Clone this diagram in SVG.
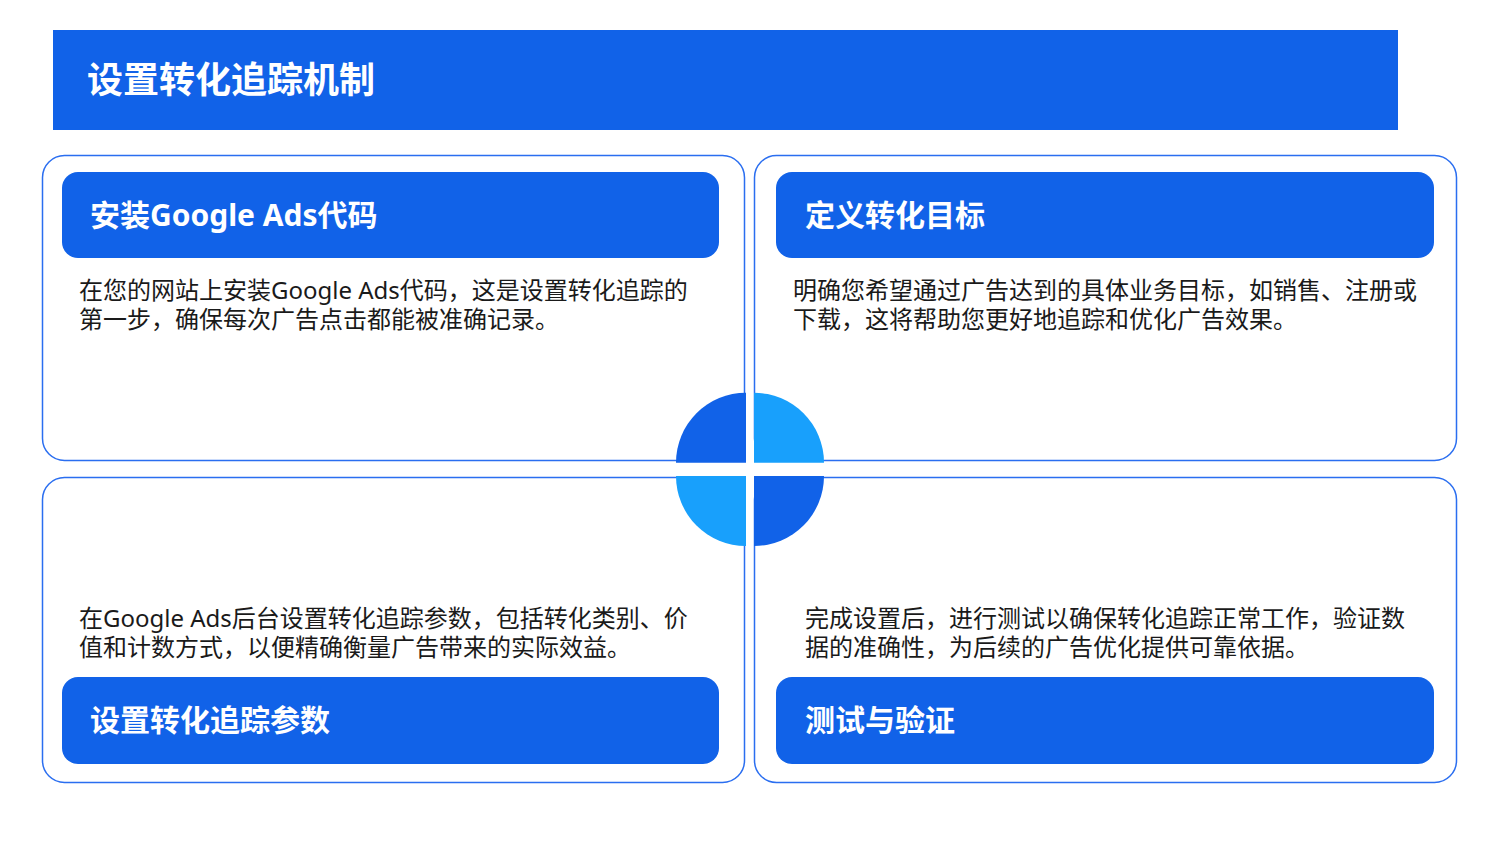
<svg xmlns="http://www.w3.org/2000/svg" width="1500" height="844" viewBox="0 0 1500 844">
<style>
.card{fill:#ffffff;stroke:#2a6ef0;stroke-width:1.5}
.hd{fill:#1162e8}
.ht{font-family:"Noto Sans","Noto Sans CJK SC",sans-serif;font-size:30px;font-weight:bold;fill:#ffffff}
.bt{font-family:"Noto Sans","Noto Sans CJK SC",sans-serif;font-size:24px;fill:#1a1a1a}
.dk{fill:#1162e8}
.lt{fill:#18a0fc}
</style>
<rect width="1500" height="844" fill="#ffffff"/>
<g id="title">
<rect x="53" y="30" width="1345" height="100" class="hd"/>
<text x="87" y="93" font-family="'Noto Sans','Noto Sans CJK SC',sans-serif" font-size="36" font-weight="bold" fill="#ffffff">设置转化追踪机制</text>
</g>
<g id="card1">
<rect x="42.5" y="155.5" width="702" height="305" rx="22" class="card"/>
<rect x="62" y="172" width="657" height="86" rx="16" class="hd"/>
<text x="90" y="226" class="ht">安装Google Ads代码</text>
<text class="bt"><tspan x="79" y="299">在您的网站上安装Google Ads代码，这是设置转化追踪的</tspan><tspan x="79" y="328">第一步，确保每次广告点击都能被准确记录。</tspan></text>
</g>
<g id="card2">
<rect x="754.5" y="155.5" width="702" height="305" rx="22" class="card"/>
<rect x="776" y="172" width="658" height="86" rx="16" class="hd"/>
<text x="805" y="226" class="ht">定义转化目标</text>
<text class="bt"><tspan x="793" y="299">明确您希望通过广告达到的具体业务目标，如销售、注册或</tspan><tspan x="793" y="328">下载，这将帮助您更好地追踪和优化广告效果。</tspan></text>
</g>
<g id="card3">
<rect x="42.5" y="477.5" width="702" height="305" rx="22" class="card"/>
<rect x="62" y="677" width="657" height="87" rx="16" class="hd"/>
<text x="90" y="731" class="ht">设置转化追踪参数</text>
<text class="bt"><tspan x="79" y="627">在Google Ads后台设置转化追踪参数，包括转化类别、价</tspan><tspan x="79" y="656">值和计数方式，以便精确衡量广告带来的实际效益。</tspan></text>
</g>
<g id="card4">
<rect x="754.5" y="477.5" width="702" height="305" rx="22" class="card"/>
<rect x="776" y="677" width="658" height="87" rx="16" class="hd"/>
<text x="805" y="731" class="ht">测试与验证</text>
<text class="bt"><tspan x="805" y="627">完成设置后，进行测试以确保转化追踪正常工作，验证数</tspan><tspan x="805" y="656">据的准确性，为后续的广告优化提供可靠依据。</tspan></text>
</g>
<g id="center">
<path class="dk" d="M746 462.7 L676 462.7 A70 70 0 0 1 746 392.7 Z"/>
<path class="lt" d="M754 462.7 L754 392.7 A70 70 0 0 1 824 462.7 Z"/>
<path class="lt" d="M746 476 L746 546 A70 70 0 0 1 676 476 Z"/>
<path class="dk" d="M754 476 L824 476 A70 70 0 0 1 754 546 Z"/>
</g>
</svg>
